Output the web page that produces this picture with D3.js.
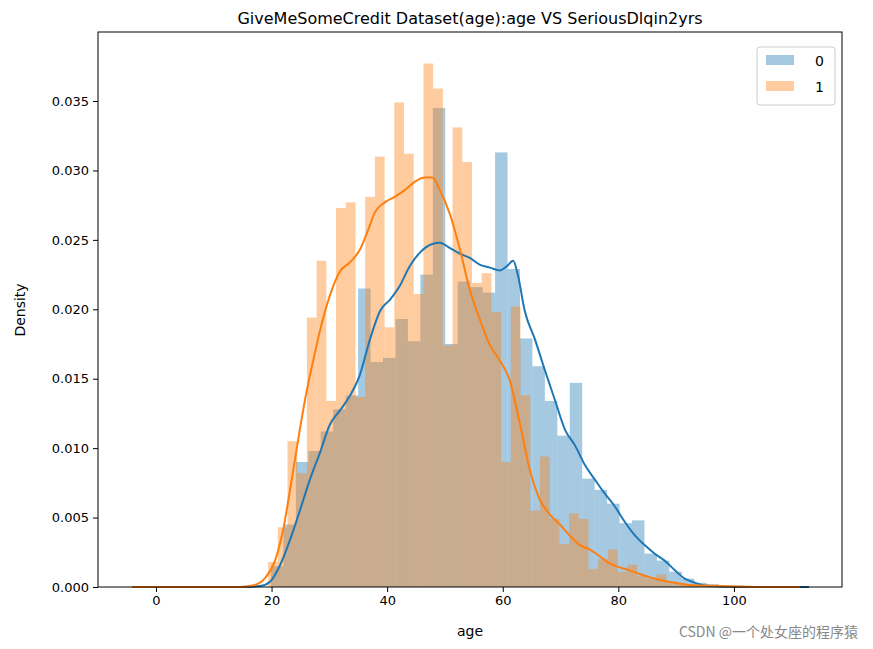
<!DOCTYPE html><html><head><meta charset="utf-8"><script src="https://cdn.jsdelivr.net/npm/d3@7"></script>
<style>body{margin:0;background:#fff}text{font-family:"DejaVu Sans",sans-serif}</style></head><body><svg id="c" width="873" height="649"></svg>
<script>
const blueStart=19.9, blueWidth=2.154;
const blueVals=[0.0015,0.0045,0.0090,0.0098,0.0112,0.0128,0.0138,0.0215,0.0162,0.0165,0.0193,0.0177,0.0225,0.0345,0.0175,0.0220,0.0216,0.0212,0.0313,0.0229,0.0179,0.0159,0.0134,0.0109,0.0147,0.0078,0.0070,0.0060,0.0046,0.0048,0.0024,0.0019,0.0011,0.0006,0.0003,0.0002,0.0001,0.0001];
const orangeStart=19.4, orangeWidth=1.68;
const orangeVals=[0.0018,0.0043,0.0105,0.0082,0.0194,0.0235,0.0134,0.0273,0.0277,0.0137,0.0281,0.0310,0.0187,0.0349,0.0312,0.0211,0.0377,0.0359,0.0174,0.0331,0.0306,0.0219,0.0226,0.0198,0.0090,0.0202,0.0138,0.0055,0.0094,0.0049,0.0031,0.0053,0.0049,0.0013,0.0020,0.0027,0.0011,0.0016,0.0008,0.0006,0.0009,0.0004,0.0003,0.0002];
const blueKdeAge=[-4.15,14.5,18.0,19.7,21.5,23.2,24.9,26.6,28.4,30.1,31.8,33.6,35.3,37.0,38.8,40.5,42.2,43.9,45.7,47.8,49.1,50.9,52.6,54.3,56.1,57.8,59.5,60.7,61.8,62.6,63.8,65.6,67.3,69.0,70.8,72.5,74.2,76.0,77.7,79.4,81.1,82.9,84.6,86.3,88.0,89.8,91.5,93.3,95.8,101.0,113];
const blueKde=[0,0,0.00007,0.00036,0.0016,0.0034,0.0055,0.0077,0.0097,0.0117,0.0127,0.0138,0.0153,0.0178,0.0199,0.0207,0.0217,0.0231,0.0241,0.0247,0.0248,0.0244,0.0240,0.0237,0.0232,0.0230,0.0228,0.0231,0.0235,0.0225,0.0199,0.0178,0.0156,0.0135,0.0113,0.0102,0.0088,0.0077,0.0067,0.0058,0.0047,0.0037,0.0030,0.0024,0.0019,0.0012,0.0006,0.0003,0.00007,0,0];
const orangeKdeAge=[-4.15,14.5,17.1,18.9,20.6,22.0,23.2,24.6,25.8,27.2,28.4,30.1,31.8,33.6,35.3,36.7,37.9,39.6,41.3,43.1,44.8,46.5,47.8,49.1,50.9,52.6,54.3,56.1,57.8,59.5,61.2,63.0,64.7,66.4,68.2,69.9,71.6,73.4,75.1,76.8,78.5,80.3,82.0,83.7,85.5,87.2,89.8,92.4,97.6,106.2,111.4];
const orangeKde=[0,0,0.00014,0.00065,0.0019,0.0041,0.0070,0.0106,0.0135,0.0163,0.0185,0.0210,0.0227,0.0234,0.0243,0.0257,0.0270,0.0277,0.0281,0.0286,0.0292,0.0295,0.0295,0.0286,0.0268,0.0243,0.0214,0.0192,0.0174,0.0163,0.0149,0.0117,0.0084,0.0063,0.0052,0.0045,0.0037,0.0030,0.0027,0.0022,0.0017,0.0014,0.0012,0.00094,0.0007,0.0005,0.0003,0.00014,0.00007,0,0];
const xTicks=[0,20,40,60,80,100];
const yTicks=[0,0.005,0.010,0.015,0.020,0.025,0.030,0.035];
const legendLabels=["0","1"];
const colors=["#1f77b4","#ff7f0e"];

const svg=d3.select("#c");
const L=98,R=842,T=32,B=587;
const x=d3.scaleLinear().domain([-10.03,118.7]).range([L,R]);
const y=d3.scaleLinear().domain([0,0.03997]).range([B,T]);
function bars(vals,start,w,col){
  svg.append("g").selectAll("rect").data(vals).join("rect")
   .attr("x",(d,i)=>x(start+i*w)).attr("width",(d,i)=>x(start+(i+1)*w)-x(start+i*w))
   .attr("y",d=>y(d)).attr("height",d=>y(0)-y(d)).attr("fill",col).attr("fill-opacity",0.4);
}
bars(blueVals,blueStart,blueWidth,colors[0]);
bars(orangeVals,orangeStart,orangeWidth,colors[1]);
const line=d3.line().curve(d3.curveMonotoneX);
function kde(ages,vals,col){
  svg.append("path").attr("d",line(ages.map((a,i)=>[x(a),y(vals[i])]))).attr("fill","none").attr("stroke",col).attr("stroke-width",2);
}
kde(blueKdeAge,blueKde,colors[0]);
kde(orangeKdeAge,orangeKde,colors[1]);
svg.append("rect").attr("x",L).attr("y",T).attr("width",R-L).attr("height",B-T).attr("fill","none").attr("stroke","#000").attr("stroke-width",1);
const xa=svg.append("g").attr("transform",`translate(0,${B})`).call(d3.axisBottom(x).tickValues(xTicks).tickSize(5).tickPadding(4));
const ya=svg.append("g").attr("transform",`translate(${L},0)`).call(d3.axisLeft(y).tickValues(yTicks).tickFormat(d3.format(".3f")).tickSize(5).tickPadding(4));
[xa,ya].forEach(a=>{a.select(".domain").remove();a.selectAll("text").attr("font-size",13).attr("fill","#000").style("font-family","DejaVu Sans");});
svg.append("text").attr("x",470).attr("y",24).attr("text-anchor","middle").attr("font-size",16).text("GiveMeSomeCredit Dataset(age):age VS SeriousDlqin2yrs");
svg.append("text").attr("x",470).attr("y",636).attr("text-anchor","middle").attr("font-size",14).text("age");
svg.append("text").attr("transform","translate(25,310) rotate(-90)").attr("text-anchor","middle").attr("font-size",14).text("Density");
const lg=svg.append("g");
lg.append("rect").attr("x",757).attr("y",47).attr("width",78).attr("height",58).attr("rx",3).attr("fill","#fff").attr("fill-opacity",0.8).attr("stroke","#ccc");
legendLabels.forEach((t,i)=>{
  lg.append("rect").attr("x",766).attr("y",55+i*26).attr("width",28).attr("height",10).attr("fill",colors[i]).attr("fill-opacity",0.4);
  lg.append("text").attr("x",815).attr("y",66+i*26).attr("font-size",14).text(t);
});
svg.append("text").attr("x",858).attr("y",637).attr("text-anchor","end").attr("font-size",14).attr("fill","#888").style("font-family","Noto Sans CJK SC").text("CSDN @一个处女座的程序猿");
</script></body></html>
